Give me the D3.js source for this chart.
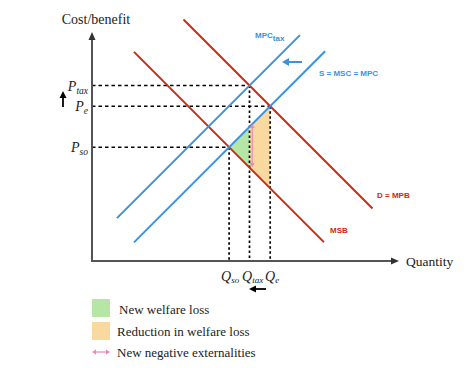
<!DOCTYPE html>
<html>
<head>
<meta charset="utf-8">
<script src="https://cdn.jsdelivr.net/npm/d3@7"></script>
<style>
  html, body { margin: 0; padding: 0; background: #fff; }
  svg { display: block; }
</style>
</head>
<body>
<svg id="chart" width="474" height="368"></svg>
<script>
// ---- data (chart units: quantity q, price p) ----
const curveNames  = ["MPB", "MSB", "S", "MPCtax"];
const curveQ0     = [30.5, 14.0, 14.0, 8.3];
const curveP0     = [80.5, 69.7, 6.2, 14.3];
const curveQ1     = [93.5, 77.3, 77.7, 69.3];
const curveP1     = [17.5, 6.3, 69.9, 75.3];
const curveColors = ["red", "red", "blue", "blue"];

const eqNames   = ["so", "tax", "e"];
const eqQ       = [45.7, 52.5, 59.4];
const eqP       = [37.9, 58.5, 51.6];

const lossQ     = [45.7, 52.5, 52.5];
const lossP     = [37.9, 44.7, 31.2];
const reduceQ   = [52.5, 59.4, 59.4, 52.5];
const reduceP   = [44.7, 51.6, 24.3, 31.2];
const extQ      = 53.4;
const extP      = [45.7, 31.3];

const legendLabels = ["New welfare loss", "Reduction in welfare loss", "New negative externalities"];

// ---- drawing ----
const C = { red: "#cc2a12", blue: "#3b92e0", green: "#b6e6a5", orange: "#fad9a0", pink: "#ec86b6", axis: "#555" };
const svg = d3.select("#chart");
const x = d3.scaleLinear().domain([0, 102]).range([92, 398]);
const y = d3.scaleLinear().domain([0, 76]).range([261, 33]);
const serif = "'Liberation Serif', 'Times New Roman', serif";
const sans = "'Liberation Sans', Arial, sans-serif";

// shaded regions
svg.append("polygon")
  .attr("points", lossQ.map((q, i) => [x(q), y(lossP[i])].join(",")).join(" "))
  .attr("fill", C.green);
svg.append("polygon")
  .attr("points", reduceQ.map((q, i) => [x(q), y(reduceP[i])].join(",")).join(" "))
  .attr("fill", C.orange);

// dashed guide lines
eqQ.forEach((q, i) => {
  svg.append("line").attr("x1", x(0)).attr("x2", x(q)).attr("y1", y(eqP[i])).attr("y2", y(eqP[i]))
    .attr("stroke", "#000").attr("stroke-width", 1.6).attr("stroke-dasharray", "3.5,3");
  svg.append("line").attr("x1", x(q)).attr("x2", x(q)).attr("y1", y(eqP[i])).attr("y2", y(0))
    .attr("stroke", "#000").attr("stroke-width", 1.7).attr("stroke-dasharray", "2.5,2.5");
});

// curves
curveNames.forEach((n, i) => {
  svg.append("line")
    .attr("x1", x(curveQ0[i])).attr("y1", y(curveP0[i]))
    .attr("x2", x(curveQ1[i])).attr("y2", y(curveP1[i]))
    .attr("stroke", C[curveColors[i]]).attr("stroke-width", 2);
});

// pink double arrow (new negative externalities)
function dblArrowV(g, xx, y1, y2, color) {
  g.append("line").attr("x1", xx).attr("x2", xx).attr("y1", y1 + 2).attr("y2", y2 - 2)
    .attr("stroke", color).attr("stroke-width", 1.2);
  g.append("path").attr("d", `M${xx - 2.5},${y1 + 4}L${xx},${y1}L${xx + 2.5},${y1 + 4}Z`).attr("fill", color);
  g.append("path").attr("d", `M${xx - 2.5},${y2 - 4}L${xx},${y2}L${xx + 2.5},${y2 - 4}Z`).attr("fill", color);
}
dblArrowV(svg, x(extQ), y(extP[0]), y(extP[1]), C.pink);

// axes
const ax = svg.append("g");
ax.append("line").attr("x1", x(0)).attr("y1", y(0)).attr("x2", x(0)).attr("y2", 38)
  .attr("stroke", C.axis).attr("stroke-width", 2);
ax.append("path").attr("d", `M${x(0) - 3.5},40L${x(0)},32L${x(0) + 3.5},40Z`).attr("fill", "#333");
ax.append("line").attr("x1", x(0) - 1).attr("y1", y(0)).attr("x2", 393).attr("y2", y(0))
  .attr("stroke", C.axis).attr("stroke-width", 2);
ax.append("path").attr("d", `M391,${y(0) - 3.5}L399,${y(0)}L391,${y(0) + 3.5}Z`).attr("fill", "#333");

svg.append("text").attr("x", 96).attr("y", 24).attr("text-anchor", "middle")
  .attr("font-family", serif).attr("font-size", 14).attr("fill", "#222").text("Cost/benefit");
svg.append("text").attr("x", 406).attr("y", 266)
  .attr("font-family", serif).attr("font-size", 13.5).attr("fill", "#222").text("Quantity");

// P labels
eqNames.forEach((n, i) => {
  const t = svg.append("text").attr("x", 88).attr("y", y(eqP[i]) + 5).attr("text-anchor", "end")
    .attr("font-family", serif).attr("font-style", "italic").attr("fill", "#222");
  t.append("tspan").attr("font-size", 14).text("P");
  t.append("tspan").attr("font-size", 9.5).attr("dy", 3).text(n);
});
// Q labels
const qLabelStart = [221, 242, 265];
eqNames.forEach((n, i) => {
  const t = svg.append("text").attr("x", qLabelStart[i]).attr("y", 281)
    .attr("font-family", serif).attr("font-style", "italic").attr("fill", "#222");
  t.append("tspan").attr("font-size", 14).text("Q");
  t.append("tspan").attr("font-size", 9).attr("dy", 2).text(n);
});

// shift arrows
svg.append("line").attr("x1", 63).attr("x2", 63).attr("y1", 107).attr("y2", 96).attr("stroke", "#000").attr("stroke-width", 1.8);
svg.append("path").attr("d", "M59.5,98L63,91L66.5,98Z").attr("fill", "#000");
svg.append("line").attr("x1", 266).attr("x2", 254).attr("y1", 289).attr("y2", 289).attr("stroke", "#000").attr("stroke-width", 1.8);
svg.append("path").attr("d", "M256,285.5L249,289L256,292.5Z").attr("fill", "#000");
svg.append("line").attr("x1", 302).attr("x2", 287).attr("y1", 62).attr("y2", 62).attr("stroke", C.blue).attr("stroke-width", 2);
svg.append("path").attr("d", "M289,58L282,62L289,66Z").attr("fill", C.blue);

// curve labels
const mt = svg.append("text").attr("x", 255).attr("y", 38).attr("font-family", sans).attr("font-weight", "bold")
  .attr("fill", C.blue);
mt.append("tspan").attr("font-size", 8).text("MPC");
mt.append("tspan").attr("font-size", 8).attr("dy", 2.5).text("tax");
svg.append("text").attr("x", 319).attr("y", 76).attr("font-family", sans).attr("font-weight", "bold")
  .attr("font-size", 8).attr("fill", C.blue).text("S = MSC = MPC");
svg.append("text").attr("x", 377).attr("y", 198).attr("font-family", sans).attr("font-weight", "bold")
  .attr("font-size", 8).attr("fill", C.red).text("D = MPB");
svg.append("text").attr("x", 330).attr("y", 233).attr("font-family", sans).attr("font-weight", "bold")
  .attr("font-size", 8).attr("fill", C.red).text("MSB");

// legend
const lg = svg.append("g");
lg.append("rect").attr("x", 92).attr("y", 299).attr("width", 18).attr("height", 18).attr("fill", C.green);
lg.append("rect").attr("x", 92).attr("y", 322).attr("width", 18).attr("height", 18).attr("fill", C.orange);
lg.append("line").attr("x1", 94).attr("x2", 108).attr("y1", 352).attr("y2", 352).attr("stroke", C.pink).attr("stroke-width", 1.2);
lg.append("path").attr("d", "M96,349.5L92,352L96,354.5Z").attr("fill", C.pink);
lg.append("path").attr("d", "M106,349.5L110,352L106,354.5Z").attr("fill", C.pink);
const ly = [314, 336, 357];
legendLabels.forEach((t, i) => {
  lg.append("text").attr("x", i === 0 ? 119 : 117).attr("y", ly[i]).attr("font-family", serif)
    .attr("font-size", 13).attr("fill", "#222").text(t);
});
</script>
</body>
</html>
